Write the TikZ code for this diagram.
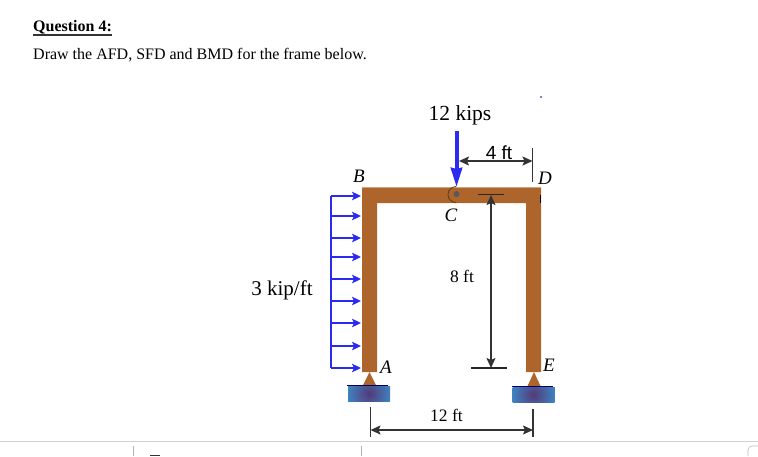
\documentclass[tikz,border=0pt]{standalone}
\usepackage{fontspec}
\setmainfont{Liberation Serif}
\setsansfont{Liberation Sans}
\usepackage{xcolor}
\usetikzlibrary{positioning,calc,arrows.meta}
\definecolor{framebrown}{HTML}{AE652B}
\definecolor{loadblue}{HTML}{2A2AF0}
\definecolor{baseblue}{HTML}{3C8CC8}
\definecolor{basedark}{HTML}{54397A}
\definecolor{dimgrey}{HTML}{333333}
\tikzset{
	lbl/.style={inner sep=0pt,font=\fontsize{17.5}{17.5}\selectfont},
	letter/.style={inner sep=0pt,font=\fontsize{19}{19}\selectfont\itshape},
	load/.style={draw=loadblue,line width=1.6pt,-{Stealth[length=9pt,width=8.5pt,inset=2pt]}},
	dim/.style={draw=dimgrey,line width=1.5pt,{Stealth[length=10pt,width=9pt,inset=2pt]}-{Stealth[length=10pt,width=9pt,inset=2pt]}},
	tick/.style={draw=dimgrey,line width=1.5pt},
	support/.style={fill=framebrown},
	block/.style={minimum width=42pt,minimum height=15pt,inner sep=0pt,fill=baseblue,path picture={\shade[inner color=basedark,outer color=baseblue] (path picture bounding box.center) circle (24);}},
}
\begin{document}
\begin{tikzpicture}[x=1pt,y=-1pt]
	\useasboundingbox (0,0) rectangle (758,456);
	% heading
	\node[inner sep=0pt,anchor=west,font=\fontsize{16}{16}\selectfont\bfseries] (title) at (33,27.5) {Question 4:};
	\draw[line width=1.2pt,black!80] ($(title.south west)+(0,0.5)$) -- ($(title.south east)+(0,0.5)$);
	\node[inner sep=0pt,anchor=west,font=\fontsize{16}{16}\selectfont] (task) at (33,55) {Draw the AFD, SFD and BMD for the frame below.};
	% frame
	\fill[framebrown] (362,372) -- (362,187) -- (541,187) -- (541,372) -- (526,372) -- (526,203) -- (377,203) -- (377,372) -- cycle;
	\draw[line width=1pt,framebrown!60!white] (362,187) -- (541,187);
	% supports
	\fill[support] (369.5,372) -- (376,385) -- (363,385) -- cycle;
	\fill[support] (534,372) -- (540.5,386) -- (527.5,386) -- cycle;
	\node[block] (baseA) at (369,393.5) {};
	\node[block] (baseE) at (533.5,394.5) {};
	\draw[line width=1pt,blue!40!black] (347,385.5) -- (388,385.5);
	\draw[line width=1pt,blue!40!black] (512,386.5) -- (553,386.5);
	% hinge
	\draw[line width=0.8pt,framebrown!55!black] (456,186.5) arc (-90:-270:8);
	\fill[black!65] (456.5,194) circle (3);
	% point load
	\coordinate (P0) at (456.5,131);
	\coordinate (P1) at (456.5,187);
	\draw[loadblue,line width=4pt,-{Stealth[length=19pt,width=11pt,inset=1pt]}] (P0) -- (P1);
	% distributed load
	\coordinate (W0) at (331,196);
	\coordinate (W1) at (331,368);
	\draw[draw=loadblue,line width=1.6pt] (W0) -- (W1);
	\foreach \yy in {196,216,238,257,279,301,323,346,368}
		\draw[load] (331,\yy) -- (361,\yy);
	% dimensions
	\coordinate (D0) at (459,161);
	\coordinate (D1) at (532.5,161);
	\draw[dim] (D0) -- (D1);
	\draw[tick] (532.5,148) -- (532.5,182);
	\draw[line width=1.6pt,black] (540.5,195) -- (540.5,203);
	\coordinate (H0) at (491,195);
	\coordinate (H1) at (491,368);
	\draw[dim] (H0) -- (H1);
	\draw[line width=1.5pt,black!85] (478,194.5) -- (504,194.5);
	\draw[line width=1.5pt,black!85] (471,368) -- (507,368);
	\coordinate (L0) at (370.5,430);
	\coordinate (L1) at (533,430);
	\draw[dim] (L0) -- (L1);
	\draw[tick] (370.5,407) -- (370.5,437);
	\draw[tick] (533,409) -- (533,437);
	% labels
	\node[inner sep=0pt,font=\fontsize{21.5}{21.5}\selectfont] (kips) at (460,115) {12 kips};
	\node[inner sep=0pt,font=\fontsize{21}{21}\selectfont] (wload) at (282,290.5) {3 kip/ft};
	\node[inner sep=0pt,font=\fontsize{19}{19}\selectfont\sffamily] (four) at (499,153) {4 ft};
	\node[lbl] (eight) at (462,276) {8 ft};
	\node[lbl] (twelve) at (446.5,415) {12 ft};
	\node[letter] (B) at (359,176) {B};
	\node[letter] (C) at (451,215) {C};
	\node[letter] (D) at (545,178) {D};
	\node[letter] (A) at (386,367) {A};
	\node[letter] (E) at (549,365) {E};
	% page edge
	\fill[blue!70!black] (541,97) circle (0.8);
	\draw[line width=0.8pt,black!18] (0,441) -- (758,441);
	\draw[line width=0.6pt,black!30] (133,446) -- (133,456);
	\draw[line width=0.6pt,black!30] (361,446) -- (361,456);
	\draw[line width=1.5pt,black!80] (150,455.5) -- (160,455.5);
	\draw[line width=0.6pt,black!25] (758,446) -- (752,446) arc (-90:-180:4) -- (748,456);
\end{tikzpicture}
\end{document}
